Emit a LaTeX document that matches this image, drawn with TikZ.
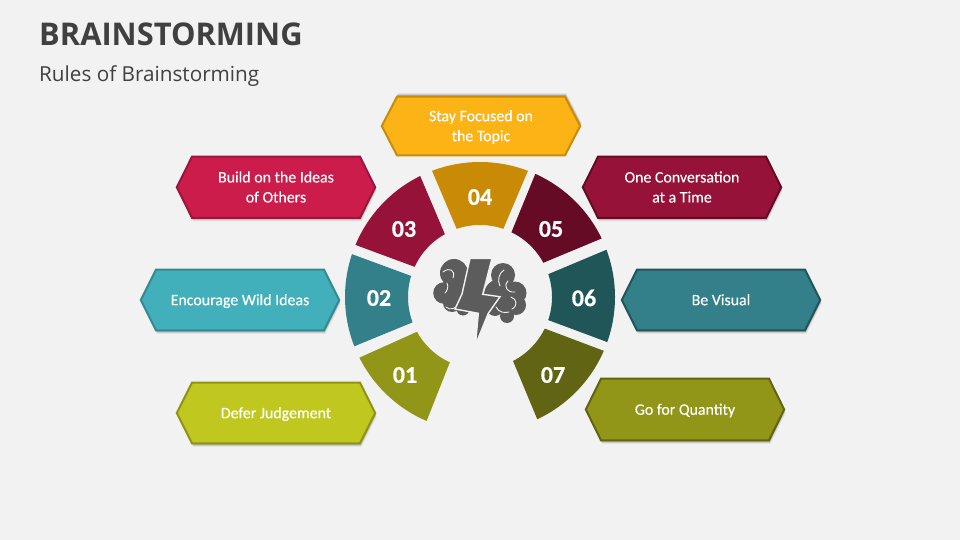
\documentclass[tikz,border=0pt]{standalone}
\usepackage{fontspec}
\setmainfont{Carlito}
\newfontfamily\headfont[FakeStretch=0.985]{Open Sans}
\newfontfamily\subfont{Open Sans}
\newfontfamily\labelfont[FakeBold=0.35]{Carlito}
\newfontfamily\numfont[FakeBold=0.5]{Carlito}
\definecolor{bgc}{HTML}{F2F2F2}
\definecolor{ink}{HTML}{404040}
\definecolor{icong}{HTML}{5C5C5C}
\definecolor{yellowf}{HTML}{FBB316}
\definecolor{yellowd}{HTML}{C98C08}
\definecolor{redf}{HTML}{CB1C4B}
\definecolor{redd}{HTML}{99163C}
\definecolor{maroonf}{HTML}{961238}
\definecolor{maroond}{HTML}{650B26}
\definecolor{tealf}{HTML}{42B0BA}
\definecolor{teald}{HTML}{338A92}
\definecolor{petrolf}{HTML}{33808A}
\definecolor{petrold}{HTML}{215659}
\definecolor{limef}{HTML}{C0C820}
\definecolor{limed}{HTML}{8F9412}
\definecolor{olivef}{HTML}{919618}
\definecolor{olived}{HTML}{616413}
\definecolor{goldd}{HTML}{C98A06}
\tikzset{
  x=1pt,y=-1pt,
  hexlabel/.style={text=white,align=center,font=\labelfont\fontsize{15.9}{20}\selectfont,inner sep=0pt},
  numlabel/.style={text=white,font=\numfont\fontsize{24}{24}\selectfont\bfseries,inner sep=0pt},
  hexline/.style={line width=2pt,line join=miter},
}
% hex: name, x0, y0, y1, fill, border, label, shadow direction
\newcommand{\hexbox}[8]{
  \foreach \k/\op in {3.5/0.06,2.5/0.1,1.5/0.14}{
    \fill[black,opacity=\op,shift={({0.4*\k},{#8*\k})}] (#2+0.8,{(#3+#4)/2}) -- (#2+16,#3+0.7) -- (#2+184,#3+0.7) -- (#2+199.2,{(#3+#4)/2}) -- (#2+184,#4-0.7) -- (#2+16,#4-0.7) -- cycle;
  }
  \draw[hexline,fill=#5,draw=#6] (#2+0.8,{(#3+#4)/2}) -- (#2+16,#3+0.7) -- (#2+184,#3+0.7) -- (#2+199.2,{(#3+#4)/2}) -- (#2+184,#4-0.7) -- (#2+16,#4-0.7) -- cycle;
  \node[hexlabel] (#1) at (#2+100,{(#3+#4)/2+1.2}) {#7};
}
% seg: colour, outer a1, outer a2, inner b1, inner b2, label, x, y
\newcommand{\seg}[8]{
  \fill[#1] plot[domain=#2:#3,samples=40] ({480+135*cos(\x)},{297-135*sin(\x)})
     -- plot[domain=#5:#4,samples=30] ({480+72*cos(\x)},{297-72*sin(\x)}) -- cycle;
  \node[numlabel] (n#6) at (#7,#8) {#6};
}
\begin{document}
\begin{tikzpicture}
\useasboundingbox (0,0) rectangle (960,540);
\fill[bgc] (0,0) rectangle (960,540);
\node[anchor=base west,inner sep=0pt,text=ink,font=\headfont\fontsize{31.3}{32}\selectfont\bfseries] (title) at (39,46) {BRAINSTORMING};
\node[anchor=base west,inner sep=0pt,text=ink,font=\subfont\fontsize{20.7}{21}\selectfont] (subtitle) at (39,81.5) {Rules of Brainstorming};

\hexbox{h4}{381}{96}{156}{yellowf}{yellowd}{\strut Stay Focused on\\\strut the Topic}{-1}
\hexbox{h3}{176}{156}{218.5}{redf}{redd}{\strut Build on the Ideas\\\strut of Others}{1}
\hexbox{h5}{582}{156}{218.5}{maroonf}{maroond}{\strut One Conversation\\\strut at a Time}{1}
\hexbox{h2}{140}{269}{331}{tealf}{teald}{\strut Encourage Wild Ideas}{1}
\hexbox{h6}{621}{269}{331}{petrolf}{petrold}{\strut Be Visual}{1}
\hexbox{h1}{176}{382}{444}{limef}{limed}{\strut Defer Judgement}{1}
\hexbox{h7}{585}{378}{441}{olivef}{olived}{\strut Go for Quantity}{1}

\seg{olivef}{206.7}{246.7}{208.9}{245.2}{01}{405}{375}
\seg{petrolf}{161.5}{201.4}{163}{200.6}{02}{379}{298}
\seg{maroonf}{116.3}{157.3}{119.2}{155.2}{03}{404}{229}
\seg{goldd}{69.2}{110.8}{71.1}{108.9}{04}{480}{197}
\seg{maroond}{25.7}{65.8}{28.4}{64.1}{05}{551}{229}
\seg{petrold}{-19.5}{20.5}{-18.7}{18.5}{06}{584}{298}
\seg{olived}{-64.9}{-23.5}{-62.7}{-26}{07}{553}{375}

% icon: cloud-brain
\fill[icong] (454,273) circle[radius=14] (444,293) circle[radius=10.8] (452,303) circle[radius=9]
  (463,309) circle[radius=6.5] (460,290) circle[radius=14] (503,275) circle[radius=12]
  (515,293) circle[radius=11.5] (516,305) circle[radius=10] (507,316) circle[radius=7]
  (500,295) circle[radius=16] (495,308) circle[radius=8];
\draw[bgc,line width=0.9pt,line cap=round] (443,272) .. controls (449,267) and (456,270) .. (453,278)
   (447,283) .. controls (449,287) and (447,291) .. (445,293)
   (446,307) .. controls (450,311) and (456,308) .. (458,305)
   (504,270) .. controls (499,273) and (497,280) .. (500,286)
   (508,281) .. controls (503,286) and (507,293) .. (515,292)
   (511,297) .. controls (517,299) and (518,306) .. (512,309)
   (496,307) .. controls (499,313) and (505,313) .. (509,312);
\draw[bgc,line width=1.4pt,fill=icong,line join=miter] (470,258.3) -- (492,258.3) -- (482.7,294.3) -- (500,296.7) -- (488.3,313.3) -- (475.5,345) -- (478.3,313.3) -- (455,309) -- (462,294) -- cycle;
\end{tikzpicture}
\end{document}
